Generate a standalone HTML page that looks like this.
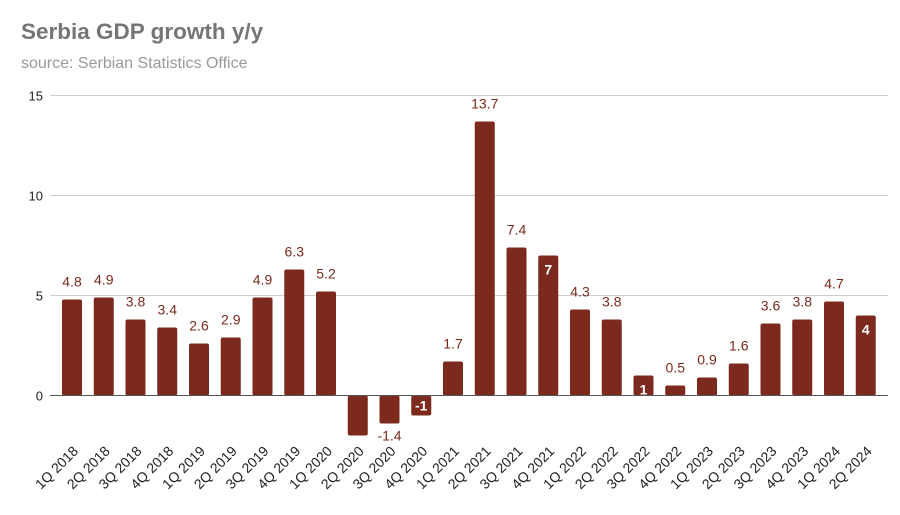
<!DOCTYPE html>
<html><head><meta charset="utf-8"><style>
body{margin:0;background:#fff;}
svg text{font-family:"Liberation Sans",Arial,sans-serif;}
</style></head><body>
<svg id="c" width="900" height="510" xmlns="http://www.w3.org/2000/svg">
<text x="21" y="39" font-size="22.5" font-weight="bold" fill="#757575">Serbia GDP growth y/y</text>
<text x="21" y="68" font-size="16" fill="#999">source: Serbian Statistics Office</text>
</svg>
<script>
const s=document.getElementById('c'),NS='http://www.w3.org/2000/svg';
function el(t,a,txt){const e=document.createElementNS(NS,t);for(const k in a)e.setAttribute(k,a[k]);if(txt!==undefined)e.textContent=txt;s.appendChild(e);return e;}
const y0=395.5,u=20;
[15,10,5].forEach(v=>{const y=y0-v*u;el('line',{x1:50,x2:888,y1:y,y2:y,stroke:'#ccc','stroke-width':1});el('text',{x:43,y:y+5,'font-size':13,'text-anchor':'end',fill:'#222'},v);});
el('text',{x:43,y:y0+5,'font-size':13,'text-anchor':'end',fill:'#222'},0);
const d=[4.8,4.9,3.8,3.4,2.6,2.9,4.9,6.3,5.2,-2,-1.4,-1,1.7,13.7,7.4,7,4.3,3.8,1,0.5,0.9,1.6,3.6,3.8,4.7,4];
const lab=['1Q 2018','2Q 2018','3Q 2018','4Q 2018','1Q 2019','2Q 2019','3Q 2019','4Q 2019','1Q 2020','2Q 2020','3Q 2020','4Q 2020','1Q 2021','2Q 2021','3Q 2021','4Q 2021','1Q 2022','2Q 2022','3Q 2022','4Q 2022','1Q 2023','2Q 2023','3Q 2023','4Q 2023','1Q 2024','2Q 2024'];
const inside={15:1,18:1,25:1,11:1};
d.forEach((v,i)=>{const cx=72+i*31.75,w=20;const top=v>=0?y0-v*u:y0,h=Math.abs(v)*u;
el('rect',{x:cx-w/2,y:top,width:w,height:h,rx:2,fill:'#7b2a1d'});
el('text',{x:cx+7,y:452,'font-size':14,'text-anchor':'end',fill:'#222',transform:`rotate(-45 ${cx+7} 452)`},lab[i]);
if(v===-2){}
else if(inside[i]){const ty=v>=0?top+19:y0+h-5;el('text',{x:cx,y:ty,'font-size':14,'font-weight':'bold','text-anchor':'middle',fill:'#fff'},v);}
else if(v<0){el('text',{x:cx,y:y0+h+17,'font-size':14,'text-anchor':'middle',fill:'#7b2a1d'},v);}
else el('text',{x:cx,y:top-13,'font-size':14,'text-anchor':'middle',fill:'#7b2a1d'},v);
});
el('line',{x1:50,x2:888,y1:y0,y2:y0,stroke:'#555','stroke-width':1});
</script>
</body></html>
